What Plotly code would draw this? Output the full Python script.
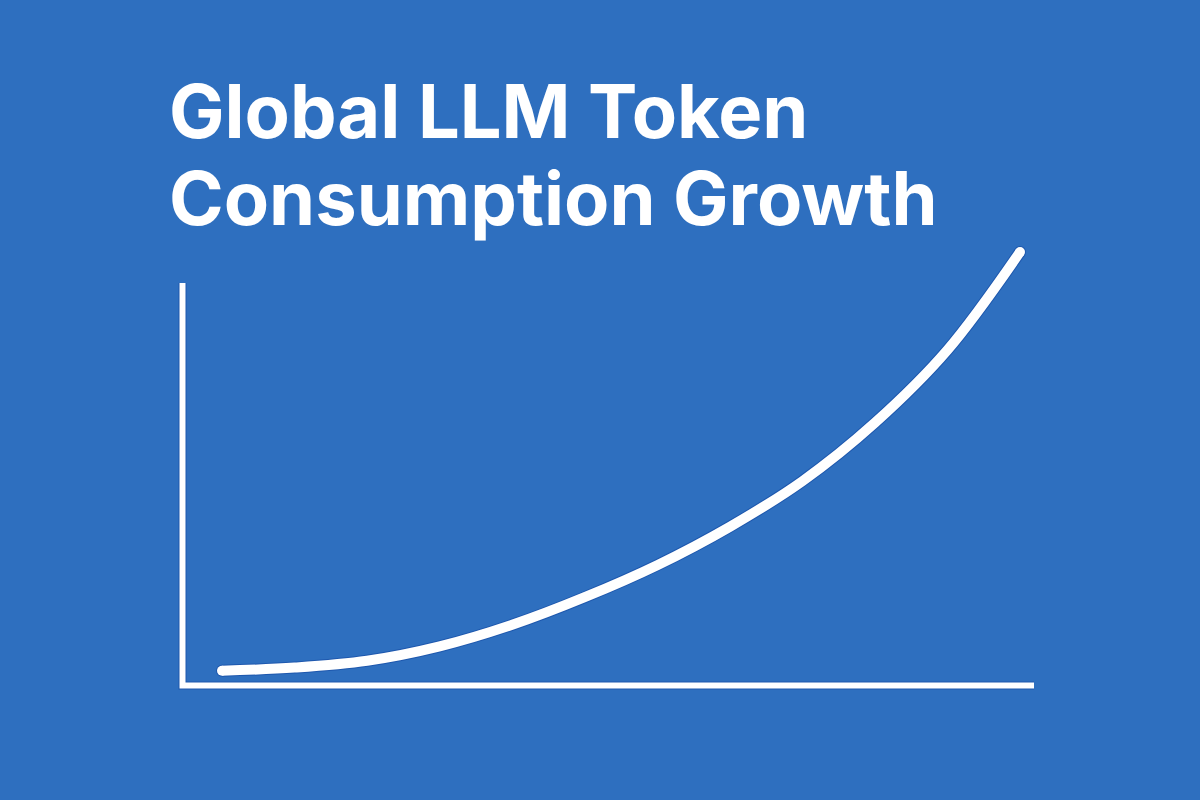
import plotly.graph_objects as go

# Data (abstract growth curve)
years = [2019, 2020, 2021, 2022, 2023, 2024, 2025, 2026, 2027, 2028, 2029, 2030]
tokens = [3.8, 4.6, 6.3, 9.9, 15.3, 22.2, 30.2, 39.8, 51.2, 65.8, 84.0, 108.5]

title_line1 = "Global LLM Token"
title_line2 = "Consumption Growth"

BG = "#2E6FBF"
EDGE = "#1E58AE"
W, H = 1200, 800
L, R, T, B = 182, 166, 246, 114
plot_w, plot_h = W - L - R, H - T - B

px_per_year = (1020 - 222) / (years[-1] - years[0])
x0 = years[0] - (222 - L) / px_per_year
x1 = x0 + plot_w / px_per_year
y_top = plot_h / 4.0  # 4 px per unit

def px2paper_y(py):
    return (H - B - py) / plot_h

def px2paper_x(px):
    return (px - L) / plot_w

fig = go.Figure()

line_kw = dict(shape="spline", smoothing=1.0)
# dark edge underlay
fig.add_trace(go.Scatter(x=years, y=tokens, mode="lines",
                         line=dict(color=EDGE, width=12, **line_kw),
                         hoverinfo="skip", showlegend=False, cliponaxis=False))
fig.add_trace(go.Scatter(x=[years[0], years[-1]], y=[tokens[0], tokens[-1]], mode="markers",
                         marker=dict(color=EDGE, size=12),
                         hoverinfo="skip", showlegend=False, cliponaxis=False))
fig.add_trace(go.Scatter(x=years, y=tokens, mode="lines",
                         line=dict(color="white", width=10, **line_kw),
                         hoverinfo="skip", showlegend=False, cliponaxis=False))
fig.add_trace(go.Scatter(x=[years[0], years[-1]], y=[tokens[0], tokens[-1]], mode="markers",
                         marker=dict(color="white", size=10),
                         hoverinfo="skip", showlegend=False, cliponaxis=False))

# axes as an L-shaped path (paper coords, not clipped)
ax_x = px2paper_x(182.5)
ax_top = px2paper_y(283)
ax_y = px2paper_y(685.5)
ax_right = px2paper_x(1034)
axis_path = f"M {ax_x},{ax_top} L {ax_x},{ax_y} L {ax_right},{ax_y}"
fig.add_shape(type="path", xref="paper", yref="paper", path=axis_path,
              line=dict(color=EDGE, width=8), layer="below")
fig.add_shape(type="path", xref="paper", yref="paper", path=axis_path,
              line=dict(color="white", width=6), layer="below")

fig.add_annotation(text=title_line1, xref="paper", yref="paper",
                   x=px2paper_x(167), y=px2paper_y(111), xanchor="left", yanchor="middle",
                   showarrow=False,
                   font=dict(family="Inter", size=74, color="white", weight=700))
fig.add_annotation(text=title_line2, xref="paper", yref="paper",
                   x=px2paper_x(167), y=px2paper_y(198), xanchor="left", yanchor="middle",
                   showarrow=False,
                   font=dict(family="Inter", size=74, color="white", weight=700))

fig.update_layout(
    width=W, height=H,
    margin=dict(l=L, r=R, t=T, b=B, pad=0),
    paper_bgcolor=BG, plot_bgcolor=BG,
    xaxis=dict(range=[x0, x1], visible=False, fixedrange=True),
    yaxis=dict(range=[0, y_top], visible=False, fixedrange=True),
    showlegend=False,
)

fig.write_html("out.html", config={"displayModeBar": False})
